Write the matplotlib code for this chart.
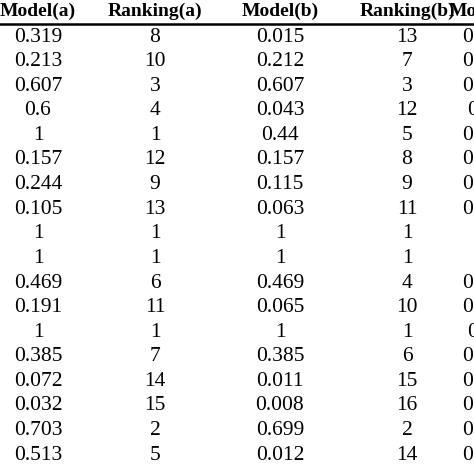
import matplotlib.pyplot as plt

headers = ["Model(a)", "Ranking(a)", "Model(b)", "Ranking(b)", "Model(c)"]
model_a = ["0.319", "0.213", "0.607", "0.6", "1", "0.157", "0.244", "0.105", "1",
           "1", "0.469", "0.191", "1", "0.385", "0.072", "0.032", "0.703", "0.513"]
rank_a = [8, 10, 3, 4, 1, 12, 9, 13, 1, 1, 6, 11, 1, 7, 14, 15, 2, 5]
model_b = ["0.015", "0.212", "0.607", "0.043", "0.44", "0.157", "0.115", "0.063", "1",
           "1", "0.469", "0.065", "1", "0.385", "0.011", "0.008", "0.699", "0.012"]
rank_b = [13, 7, 3, 12, 5, 8, 9, 11, 1, 1, 4, 10, 1, 6, 15, 16, 2, 14]
# last column is cut off at the image edge, values not readable
model_c = ["0.312", "0.208", "0.601", "0.59", "0.440", "0.151", "0.239", "0.100", "1",
           "1", "0.462", "0.187", "0.98", "0.381", "0.070", "0.030", "0.698", "0.509"]

col_x = [38, 155, 280, 407, 486]
columns = [model_a, rank_a, model_b, rank_b, model_c]

plt.rcParams['font.family'] = ['Liberation Serif', 'DejaVu Serif']
fig = plt.figure(figsize=(4.74, 4.74), dpi=100)
ax = fig.add_axes([0, 0, 1, 1])
ax.set_xlim(0, 474)
ax.set_ylim(474, 0)
ax.axis('off')

for x, h in zip(col_x, headers):
    ax.text(x, 11, h, ha='center', va='center', fontsize=14, fontweight='bold')
ax.plot([0, 474], [23.5, 23.5], color='black', lw=1.8)

y0, dy = 37, 24.6
for x, col in zip(col_x, columns):
    for i, v in enumerate(col):
        ax.text(x, y0 + i * dy, str(v), ha='center', va='center', fontsize=15.5)

fig.savefig('out.png', dpi=100)
